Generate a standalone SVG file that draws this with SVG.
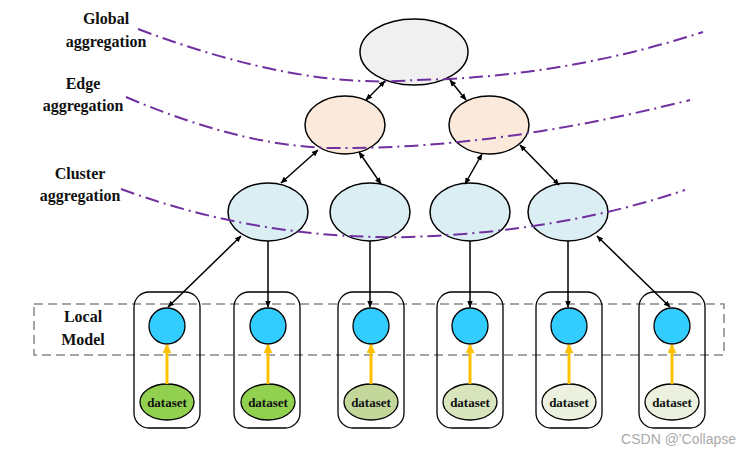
<svg xmlns="http://www.w3.org/2000/svg" width="752" height="456" viewBox="0 0 752 456">
<defs>
<marker id="ab" viewBox="0 0 10 10" refX="9" refY="5" markerWidth="7" markerHeight="7" orient="auto-start-reverse" markerUnits="userSpaceOnUse"><path d="M0,1 L10,5 L0,9 z" fill="#000"/></marker>
<marker id="ay" viewBox="0 0 10 10" refX="9" refY="5" markerWidth="9" markerHeight="9" orient="auto" markerUnits="userSpaceOnUse"><path d="M0,0 L10,5 L0,10 z" fill="#ffc000"/></marker>
<style>
.lbl{font-family:"Liberation Serif",serif;font-weight:bold;font-size:16px;fill:#111;text-anchor:middle}
.ds{font-family:"Liberation Serif",serif;font-weight:bold;font-size:13px;fill:#111;text-anchor:middle}
.n{stroke:#000;stroke-width:1.5}
.box{fill:none;stroke:#000;stroke-width:1.3}
.c{fill:#33ccff;stroke:#000;stroke-width:1.3}
.d{stroke:#000;stroke-width:1.3}
.cur{fill:none;stroke:#7030a0;stroke-width:2;stroke-dasharray:14,5,2,5}
.bl{stroke:#000;stroke-width:1.5;marker-start:url(#ab);marker-end:url(#ab)}
.ba{stroke:#000;stroke-width:1.5;marker-end:url(#ab)}
.ya{stroke:#ffc000;stroke-width:3;marker-end:url(#ay)}
</style>
</defs>
<rect x="34" y="304" width="690" height="51" fill="none" stroke="#888" stroke-width="1.5" stroke-dasharray="9,5"/>
<g id="labels">
<text class="lbl" x="106" y="24">Global</text>
<text class="lbl" x="106" y="47">aggregation</text>
<text class="lbl" x="83" y="89">Edge</text>
<text class="lbl" x="83" y="111">aggregation</text>
<text class="lbl" x="80" y="179">Cluster</text>
<text class="lbl" x="80" y="201">aggregation</text>
<text class="lbl" x="83" y="322">Local</text>
<text class="lbl" x="83" y="345">Model</text>
</g>
<g id="global"><ellipse class="n" cx="414" cy="52" rx="54" ry="33" fill="#f0f0f0"/></g>
<g id="edge1"><ellipse class="n" cx="345" cy="125" rx="40" ry="29" fill="#fbe9db"/></g>
<g id="edge2"><ellipse class="n" cx="489" cy="125" rx="40" ry="29" fill="#fbe9db"/></g>
<g id="cl1"><ellipse class="n" cx="268" cy="212" rx="40" ry="29" fill="#daeef3"/></g>
<g id="cl2"><ellipse class="n" cx="370" cy="212" rx="40" ry="29" fill="#daeef3"/></g>
<g id="cl3"><ellipse class="n" cx="470" cy="212" rx="40" ry="29" fill="#daeef3"/></g>
<g id="cl4"><ellipse class="n" cx="568" cy="212" rx="40" ry="29" fill="#daeef3"/></g>
<g id="local1"><rect class="box" x="134" y="292" width="66" height="136" rx="15"/><circle class="c" cx="167" cy="326" r="18"/><ellipse class="d" cx="167" cy="402" rx="27" ry="18" fill="#92d050"/><text class="ds" x="167" y="407">dataset</text></g>
<g id="local2"><rect class="box" x="234" y="292" width="66" height="136" rx="15"/><circle class="c" cx="268" cy="326" r="18"/><ellipse class="d" cx="268" cy="402" rx="27" ry="18" fill="#92d050"/><text class="ds" x="268" y="407">dataset</text></g>
<g id="local3"><rect class="box" x="338" y="292" width="66" height="136" rx="15"/><circle class="c" cx="371" cy="326" r="18"/><ellipse class="d" cx="371" cy="402" rx="27" ry="18" fill="#c4d79b"/><text class="ds" x="371" y="407">dataset</text></g>
<g id="local4"><rect class="box" x="437" y="292" width="66" height="136" rx="15"/><circle class="c" cx="470" cy="326" r="18"/><ellipse class="d" cx="470" cy="402" rx="27" ry="18" fill="#d8e4bc"/><text class="ds" x="470" y="407">dataset</text></g>
<g id="local5"><rect class="box" x="536" y="292" width="66" height="136" rx="15"/><circle class="c" cx="569" cy="326" r="18"/><ellipse class="d" cx="569" cy="402" rx="27" ry="18" fill="#ebf1de"/><text class="ds" x="569" y="407">dataset</text></g>
<g id="local6"><rect class="box" x="639" y="292" width="66" height="136" rx="15"/><circle class="c" cx="672" cy="326" r="18"/><ellipse class="d" cx="672" cy="402" rx="27" ry="18" fill="#ebf1de"/><text class="ds" x="672" y="407">dataset</text></g>
<g id="curves">
<path class="cur" d="M138,29 Q300,90 414,80 Q560,78 703,32"/>
<path class="cur" d="M126,97 Q250,150 345,148 Q500,148 690,100"/>
<path class="cur" d="M121,189 Q260,240 410,237 Q560,232 685,190"/>
</g>
<g id="connectors">
<line class="bl" x1="385" y1="81" x2="366" y2="100"/>
<line class="bl" x1="450" y1="80" x2="466" y2="100"/>
<line class="bl" x1="318" y1="150" x2="281" y2="183"/>
<line class="bl" x1="359" y1="152" x2="381" y2="184"/>
<line class="bl" x1="482" y1="154" x2="465" y2="184"/>
<line class="bl" x1="520" y1="145" x2="559" y2="185"/>
<line class="bl" x1="241" y1="236" x2="168" y2="307"/>
<line class="ba" x1="268" y1="241" x2="268" y2="307"/>
<line class="ba" x1="370" y1="241" x2="370" y2="307"/>
<line class="ba" x1="470" y1="241" x2="470" y2="307"/>
<line class="ba" x1="568" y1="241" x2="568" y2="307"/>
<line class="bl" x1="597" y1="236" x2="670" y2="307"/>
<line class="ya" x1="167" y1="384" x2="167" y2="345"/>
<line class="ya" x1="268" y1="384" x2="268" y2="345"/>
<line class="ya" x1="371" y1="384" x2="371" y2="345"/>
<line class="ya" x1="470" y1="384" x2="470" y2="345"/>
<line class="ya" x1="569" y1="384" x2="569" y2="345"/>
<line class="ya" x1="672" y1="384" x2="672" y2="345"/>
</g>
<text x="736" y="444" font-family="Liberation Sans,sans-serif" font-size="14" fill="#aaa" text-anchor="end">CSDN @'Collapse</text>
</svg>
